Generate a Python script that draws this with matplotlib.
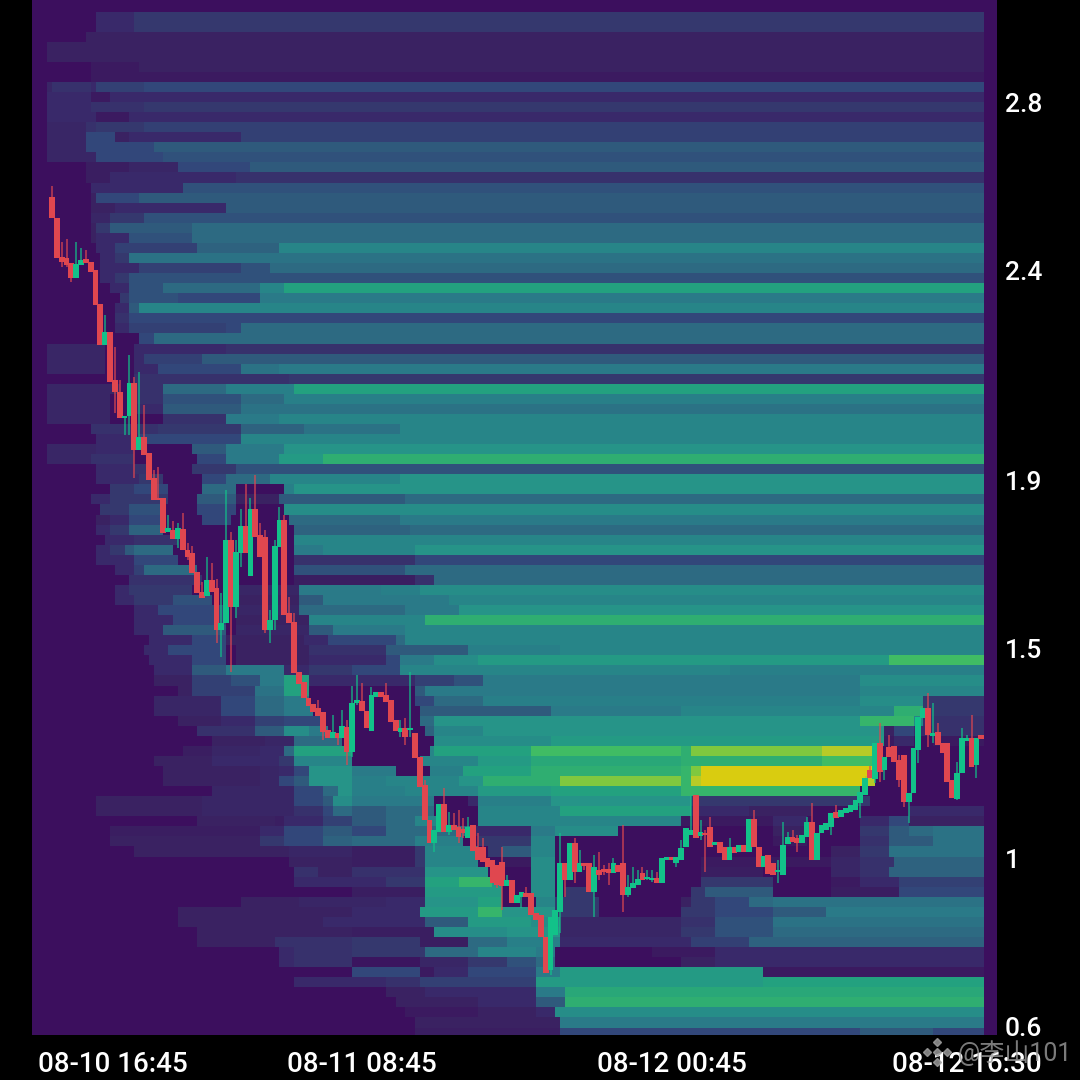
import numpy as np
import matplotlib
matplotlib.use("Agg")
import matplotlib.pyplot as plt
from matplotlib.colors import LinearSegmentedColormap
from matplotlib.lines import Line2D

TICK = 1 / 420  # price step of the OHLC tick arrays
OPEN = [1081,1060,1021,1020,1015,1000,1013,1019,1016,1008,974,933,946,898,886,860,862,895,828,841,825,800,780,780,746,748,739,749,728,725,706,686,682,698,690,648,655,738,671,725,752,702,769,743,741,648,658,731,758,665,656,606,596,580,574,570,566,548,540,545,540,551,526,575,577,567,547,581,586,583,578,558,546,550,548,545,521,493,458,435,446,474,446,453,451,449,440,453,431,431,420,418,413,416,392,398,375,381,385,385,365,363,341,308,343,366,415,398,435,406,415,415,386,408,409,409,405,413,415,383,390,393,405,399,398,400,395,418,421,415,418,431,443,483,442,445,451,433,436,431,418,431,426,433,426,459,431,411,423,415,406,403,434,441,440,435,441,456,418,445,448,451,466,461,465,466,468,475,483,508,499,535,508,531,532,518,523,476,485,528,560,570,542,546,535,535,498,479,505,537,540,513,543]
HIGH = [1092,1060,1036,1039,1015,1036,1030,1028,1016,1008,974,963,946,931,898,862,923,901,906,873,825,808,811,780,763,757,755,765,735,732,706,696,721,715,699,685,788,746,738,769,794,780,803,755,748,668,738,771,763,681,665,606,596,580,574,578,566,548,563,545,568,558,592,603,595,567,591,586,586,595,578,558,558,560,606,545,521,498,458,448,474,490,466,465,468,460,461,453,445,440,420,418,413,431,403,398,383,386,391,385,365,363,341,361,368,445,415,435,440,428,415,415,423,426,413,415,420,413,453,403,411,408,411,408,408,406,420,421,421,421,438,450,483,483,458,448,461,436,436,431,440,431,433,433,459,468,431,422,423,415,418,456,446,448,443,443,461,475,445,453,455,465,473,468,470,473,478,486,500,512,535,555,521,543,532,523,523,485,530,561,570,585,575,555,535,535,498,516,550,543,563,540,543]
LOW = [1060,1020,1011,1011,996,1000,1013,1015,1006,973,933,933,896,865,860,843,843,800,828,823,798,778,778,745,746,739,730,728,718,705,685,680,682,686,635,621,655,606,660,711,725,702,741,721,645,635,648,731,663,655,605,594,580,572,566,562,538,540,540,533,540,513,521,573,567,550,547,581,581,576,556,547,541,533,541,520,491,458,435,426,446,446,443,448,435,440,440,427,418,416,411,395,390,368,392,375,375,370,381,363,358,341,305,303,343,345,381,398,395,406,408,386,361,398,403,393,405,406,366,381,390,393,398,398,396,395,395,418,418,411,418,431,443,440,438,406,431,433,425,418,418,425,426,426,426,431,411,411,404,403,395,403,434,436,426,435,441,418,418,445,448,443,460,461,465,466,468,460,483,500,495,496,498,521,516,491,471,455,485,515,560,531,535,533,525,496,480,478,505,537,511,500,539]
CLOSE = [1060,1020,1016,1013,1000,1014,1018,1015,1006,973,933,946,896,886,860,862,895,828,841,823,798,778,778,745,750,739,750,728,721,705,685,680,698,686,648,655,738,671,726,752,725,769,741,721,648,658,732,758,663,655,605,594,580,572,566,562,546,540,546,540,552,526,575,578,567,550,583,586,581,576,556,547,550,541,550,520,491,458,435,448,474,446,453,448,441,445,451,427,418,416,411,395,393,392,398,375,383,386,381,363,358,341,305,361,368,415,398,435,406,415,412,386,411,403,406,405,415,406,383,391,395,399,398,401,400,395,420,421,418,421,430,450,448,440,446,443,431,436,425,418,431,425,433,426,459,431,411,422,404,403,408,433,441,436,435,443,456,418,445,453,455,465,460,468,470,473,478,486,500,500,535,506,521,521,516,498,476,485,530,561,570,543,545,533,525,496,480,505,540,540,511,540,539]

# Level blocks per price row, top row first: "from-candle:level" runs
HEAT_ROWS = [
"", "9:3 17:4", "9:3 17:4", "7:2", "-1:2", "-1:2", "8:1 18:2", "8:1",
"-1:2.5 0:3.5 8:3 9:4.5 19:5", "-1:3 8:1 12:3", "-1:3 8:3.5 19:4", "-1:3 9:1 16:3",
"-1:2.5 7:3.5 9:4 19:4.5", "-1:2.5 7:5 13:2 16:3 39:4.5", "-1:2.5 7:5 21:6", "-1:2.5 9:5 23:5.5",
"7:1.5 16:2.5 26:5 41:6", "7:1.5 12:3 38:3.5", "8:3 27:5.5", "8:2 9:5 18:6",
"8:2 13:3 36:6", "8:2.5 12:4 19:5.5", "8:2 9:4 12:6 29:7", "8:2 9:3 16:5.5 29:7",
"9:3 13:4.5 30:6.5 47:9", "10:3 13:4 16:7.5", "10:3 18:4.5 39:5.5 45:7", "10:3 13:4 16:5.5",
"12:3 16:5.5 23:7 43:9 48:11", "14:4 16:5.5 26:5 43:8", "13:3 16:6 18:9", "13:3.5 16:5",
"13:3 16:4.5 36:5 39:7", "18:5 21:7", "-1:2.5 11:0 17:3 36:3.5", "-1:2.5 11:0 17:3 19:4.5 31:6",
"-1:2.5 11:0 17:3 22:5 39:7.5 47:8", "17:3.5 49:4", "-1:2.5 14:0 16:3.5 23:7 36:8.5 50:11",
"-1:2.5 12:0 17:3.5 23:5.5 39:7 48:8.5", "-1:2.5 12:0 17:3 23:6 39:7.5", "-1:2.5 12:0 23:3.5 36:8 47:9",
"8:3.5 22:4 39:6.5 52:7.5 72:9", "9:3 18:5 39:9", "-1:2.5 9:3 17:0 29:6 36:8 48:10",
"-1:2.5 8:3.5 17:0 30:5 36:8 47:10.5 56:12", "9:3 17:3.5 20:0 29:4 38:5.5",
"9:3 18:4 23:0 31:5 36:7 45:9 72:10", "12:4 17:5 24:0 31:7 38:0 48:8.5 50:10",
"8:3 12:4 24:0 30:6 38:2 47:6 73:7", "10:4 16:5.5 23:0 30:5 38:0 48:9.5",
"9:2 12:3 16:5 23:0 31:5 37:0 49:7 72:8", "9:3 12:4 16:6.5 23:0 50:6.5 74:7",
"11:3 17:3.5 26:0 50:9", "9:3 12:4 15:6 17:7 25:0 50:8 56:9 75:10", "9:3 17:5 26:0 50:3.5 75:5",
"13:3 17:4.5 19:7 30:0 50:5.5 73:7", "16:3.5 31:0 50:1.5 75:3.5 79:7",
"13:3 16:4 29:0 37:2.5 51:8 68:8.5 76:9.5", "13:3 17:4 25:5.5 33:0 38:2 51:6 56:8 82:9",
"17:3 22:5 36:0 38:2.5 51:7 73:8 84:10", "17:3 25:5 36:0 38:2 53:9 77:12",
"17:3 23:6 36:0 38:2.5 53:6 58:8 73:9", "20:3 29:5 36:2 52:3 57:5 71:7 73:9",
"19:3 24:5 36:0 38:2 53:3.5 69:6 86:8.5 105:9",
"20:3 29:5 36:0 38:2 53:3 69:5 72:8 79:9.5 88:10.5 173:13",
"21:3 29:6 36:8 48:3 53:4 62:5 72:9 140:8.5",
"21:2 29:4.5 37:5.5 43:8 48:11 53:3 75:4.5 83:5.5 89:8 167:9.5",
"26:2 29:4.5 42:7.5 48:11 53:0 75:6 77:8 167:9",
"21:2.5 35:5 42:7 48:8 53:0 75:5 79:7 89:8.5 167:9.5 180:4",
"21:2.5 35:5 42:7 48:8 54:0 76:6 103:8 130:9 174:12 180:4",
"26:2 35:3 42:4.5 48:5 56:0 76:7 79:10 167:12.5 178:9 180:3.5",
"30:3.5 42:6 48:9.5 53:8 57:0 77:6.5 79:9 89:10 172:2 174:5 178:3 182:3.5",
"33:2 44:2.5 50:7 60:0 79:9.5 103:10.5 172:1 174:3 178:0 182:1",
"27:1.5 33:2.5 43:3 48:7 50:11 62:0 78:9 79:11 99:13 130:12 132:14 159:15 170:0",
"21:2 33:3 47:4 50:9 62:0 76:9 88:10.5 99:11.5 130:12 159:13 170:0",
"23:2 43:2.5 47:3 50:5 53:10 62:8 71:0 78:8.5 85:11 99:12 130:12.5 132:14 134:16 170:0",
"23:2 43:2.5 47:5 50:6 53:10 62:8.5 69:9 84:10 89:12 105:14 130:12.5 132:15 134:16 168:15 170:0",
"33:2.5 50:5 56:7 59:10 62:8.5 73:9 88:10.5 103:11 130:12.5 167:0",
"9:2 31:2.5 50:5 56:6 58:9.5 62:8 79:0 86:3 88:8.5 103:10 132:4 169:0",
"9:2 31:2.5 50:3.5 56:5 58:7 62:6 69:7 79:0 88:9 105:11 132:3 144:2 157:0 177:3",
"30:2 46:1.5 48:3 56:4.5 62:6 69:7 75:9 80:0 88:9 130:1 149:3 156:0 167:3 173:5 177:2",
"12:1.5 43:3 48:5 56:6 62:5 69:7 87:3 99:8 104:9.5 117:0 149:2 156:0 167:4 173:6 177:7 182:7.5",
"12:2 43:4 48:5 56:6.5 62:7 75:8.5 85:0 88:4 99:9 104:0 149:1 156:0 167:3.5 173:6 182:7.5",
"17:2 49:2.5 62:1.5 75:4 77:9 88:0 90:4 93:6 99:9 104:0 161:2 167:4 173:7.5",
"49:2 62:1.5 75:4 77:9 88:0 93:1 99:9.5 104:0 134:1 161:2.5 167:3.5 174:6.5",
"50:3.5 55:2 62:3.5 77:10 90:0 99:9.5 104:0 134:1.5 147:0 161:2.5 167:3.5 173:6.5",
"50:3 69:4 77:11 84:12.5 91:10 93:0 99:9.5 104:0 134:4 149:0 161:1 167:3 175:4.5",
"62:1.5 77:10.5 93:0 99:9.5 104:0 106:4 112:0 132:4 135:6 149:0 161:1.5 175:5",
"39:2 51:2.5 69:3 77:10 88:11 93:0 100:9 104:4 113:0 130:2 132:4 137:5 144:7 149:7.5",
"26:2 62:3 76:10.5 88:12.5 93:10 104:4 113:0 130:4 137:5 149:6 160:8",
"26:2 56:3 77:6 86:10.5 99:9.5 105:2.5 130:3.5 137:5.5 149:7.5",
"30:2 62:1.5 79:9.5 94:10 105:2.5 130:4 137:5.5 149:7",
"30:2 46:3.5 62:4 76:1.5 86:7 94:8.5 105:3 132:4.5 144:6.5",
"47:3 50:3.5 62:4 77:7 88:9 100:8 104:0 124:1 137:3",
"47:3 50:3.5 62:0.5 76:2.5 86:4 94:5.5 100:7 104:0 130:2 137:3",
"62:5 76:1 79:3 86:5 100:8 105:10.5 147:1",
"50:3 69:3.5 76:4.5 100:10.5 147:11",
"69:2 77:3 100:8 106:11.5",
"71:2 88:3 100:6 106:12",
"73:1 88:2 100:3 104:9.5",
"75:2 105:8",
"75:1.5 105:5 167:6 182:5",
]
LAST_HEAT_CANDLE = 192.6
PRICE_TOP = 3.0393
PRICE_STEP = 0.02395
X_TICKS = [12.6, 64, 128, 189.1]
X_LABELS = ["08-10 16:45", "08-11 08:45", "08-12 00:45", "08-12 16:30"]
Y_TICKS = [2.8, 2.4, 1.9, 1.5, 1, 0.6]
Y_LABELS = ["2.8", "2.4", "1.9", "1.5", "1", "0.6"]
LEVEL_COLORS = ["#3c0f5e", "#3b1a60", "#3a2262", "#39296a", "#35386e", "#32477a", "#2f5a7c",
                "#2d6a82", "#2a7a88", "#278488", "#269488", "#23a080", "#2ead72", "#3dbb66",
                "#7cc840", "#b5cb28", "#d9cc10"]

o, h, l, c = [np.array(a) * TICK for a in (OPEN, HIGH, LOW, CLOSE)]
first = -5
cols = np.arange(first, int(np.ceil(LAST_HEAT_CANDLE)) + 1, dtype=float)
cols[-1] = LAST_HEAT_CANDLE
heat = np.zeros((len(HEAT_ROWS), len(cols) - 1))
for r, row in enumerate(HEAT_ROWS):
    for run in row.split():
        start, lvl = run.split(":")
        heat[r, int(start) - first:] = float(lvl)
edges_y = PRICE_TOP - PRICE_STEP * np.arange(len(HEAT_ROWS) + 1)

plt.rcParams["font.family"] = ["Roboto", "Noto Sans CJK SC", "DejaVu Sans"]
fig = plt.figure(figsize=(10.8, 10.8), dpi=100, facecolor="black")
ax = fig.add_axes([32 / 1080, 1 - 1035 / 1080, 965 / 1080, 1035 / 1080])
ax.set_facecolor(LEVEL_COLORS[0])
cmap = LinearSegmentedColormap.from_list("liq", [(i / 16, col) for i, col in enumerate(LEVEL_COLORS)])
ax.pcolormesh(cols, edges_y, heat, cmap=cmap, vmin=0, vmax=16, shading="flat", rasterized=True)

UP, DOWN = "#12c289", "#e0474f"
x = np.arange(len(o))
colors = [UP if a >= b else DOWN for a, b in zip(c, o)]
ax.vlines(x, l, h, colors=colors, linewidth=1.2, alpha=0.75, zorder=3)
ax.bar(x, np.maximum(np.abs(c - o), 2 * TICK), bottom=np.minimum(o, c), width=1.2, color=colors,
       linewidth=0, zorder=4)

ax.set_xlim(-4.13, 195.25)
ax.set_ylim((1278 - 1035) * TICK, 1278 * TICK)
ax.yaxis.tick_right()
ax.set_yticks(Y_TICKS, Y_LABELS)
ax.set_xticks(X_TICKS, X_LABELS)
ax.tick_params(axis="y", length=0, pad=5.8, labelcolor="white", labelsize=19)
ax.tick_params(axis="x", length=0, pad=11.5, labelcolor="white", labelsize=20)
for lab in ax.get_xticklabels() + ax.get_yticklabels():
    lab.set_fontweight("medium")
for s in ax.spines.values():
    s.set_visible(False)

# watermark
fig.text(958 / 1080, 1 - 1053 / 1080, "@李山101", color="#9a9a9a", alpha=0.8, fontsize=18, va="center", ha="left")
for dx, dy in [(0, 0), (-10, 0), (10, 0), (0, -10), (0, 10)]:
    fig.add_artist(Line2D([(937 + dx) / 1080], [1 - (1052 + dy) / 1080], marker="D", ms=4.5,
                          color="#a0a0a0", alpha=0.8, transform=fig.transFigure, linestyle="none"))
fig.savefig("out.png", dpi=100, facecolor="black")
